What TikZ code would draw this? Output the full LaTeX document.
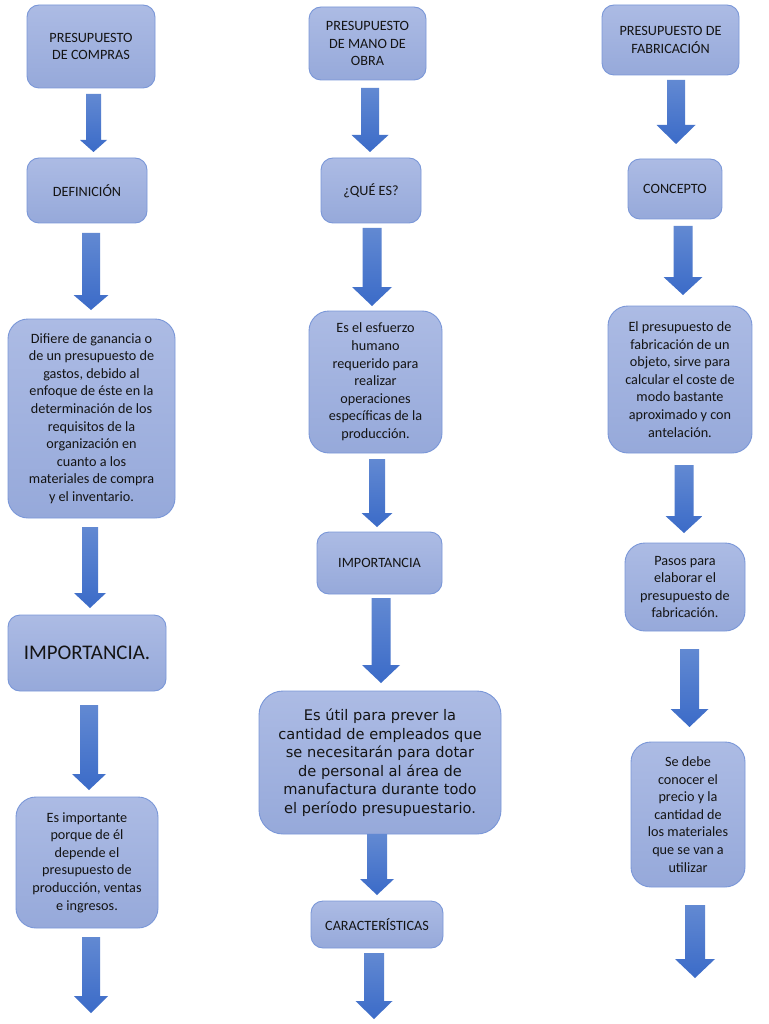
\documentclass[tikz,border=0pt]{standalone}
\usepackage{fontspec}
\setmainfont{Carlito}
\newfontfamily\verdfont{DejaVu Sans}
\definecolor{boxtop}{HTML}{ACBBE4}
\definecolor{boxbot}{HTML}{96A9DA}
\definecolor{boxline}{HTML}{7A97D8}
\definecolor{arrtop}{HTML}{6289D2}
\definecolor{arrbot}{HTML}{3B6BC8}
\definecolor{txt}{HTML}{141414}
\newcommand\farrow[7]{% name, x, ytop, ytip, shaft width, head width, head length
  \coordinate (#1s) at (#2,#3);
  \coordinate (#1e) at (#2,#4);
  \pgfmathsetmacro\sw{#5/2}\pgfmathsetmacro\hw{#6/2}
  \shade[top color=arrtop,bottom color=arrbot]
    ([xshift=-\sw pt]#1s) -- ([xshift=\sw pt]#1s)
    -- ([xshift=\sw pt,yshift=#7pt]#1e) -- ([xshift=\hw pt,yshift=#7pt]#1e)
    -- (#1e)
    -- ([xshift=-\hw pt,yshift=#7pt]#1e) -- ([xshift=-\sw pt,yshift=#7pt]#1e)
    -- cycle;}
\begin{document}
\begin{tikzpicture}[x=1pt,y=-1pt,
  fbox/.style={rounded corners=12pt, draw=boxline, line width=0.9pt,
    top color=boxtop, bottom color=boxbot, align=center, inner sep=0pt,
    text=txt, font=\fontsize{14.2}{17.6}\selectfont},
  bigr/.style={rounded corners=20pt}]
\useasboundingbox (0,0) rectangle (768,1024);
\fill[white] (0,0) rectangle (768,1024);

% Column 1
\node[fbox, minimum width=128pt, minimum height=83pt] (c1a) at (91,46.5) {PRESUPUESTO\\DE COMPRAS};
\node[fbox, minimum width=120pt, minimum height=65pt] (c1b) at (87,190.5) {DEFINICIÓN};
\node[fbox, bigr, minimum width=167pt, minimum height=199pt] (c1c) at (91.5,418.5) {Difiere de ganancia o\\de un presupuesto de\\gastos, debido al\\enfoque de éste en la\\determinación de los\\requisitos de la\\organización en\\cuanto a los\\materiales de compra\\y el inventario.};
\node[fbox, minimum width=158pt, minimum height=76pt, font=\fontsize{20.8}{24}\selectfont] (c1d) at (87,653) {IMPORTANCIA.};
\node[fbox, bigr, minimum width=142pt, minimum height=131pt] (c1e) at (87,862.5) {Es importante\\porque de él\\depende el\\presupuesto de\\producción, ventas\\e ingresos.};

\farrow{a1}{93.5}{94}{152}{15}{27}{12}
\farrow{a2}{91}{233}{310}{18}{35}{15}
\farrow{a3}{90}{527}{608}{16}{32}{15}
\farrow{a4}{89}{705}{790}{18}{34}{16}
\farrow{a5}{91}{937}{1013}{18}{34}{17}

% Column 2
\node[fbox, minimum width=117pt, minimum height=73pt] (c2a) at (367.5,43.5) {PRESUPUESTO\\DE MANO DE\\OBRA};
\node[fbox, minimum width=100pt, minimum height=65pt] (c2b) at (371,190.5) {¿QUÉ ES?};
\node[fbox, bigr, minimum width=133pt, minimum height=142pt] (c2c) at (375.5,382) {Es el esfuerzo\\humano\\requerido para\\realizar\\operaciones\\específicas de la\\producción.};
\node[fbox, minimum width=125pt, minimum height=62pt] (c2d) at (379.5,563) {IMPORTANCIA};
\node[fbox, rounded corners=24pt, minimum width=242pt, minimum height=143pt, font=\verdfont\fontsize{14.6}{18.5}\selectfont] (c2e) at (380,762.5) {Es útil para prever la\\cantidad de empleados que\\se necesitarán para dotar\\de personal al área de\\manufactura durante todo\\el período presupuestario.};
\node[fbox, minimum width=132pt, minimum height=47pt] (c2f) at (377,924.5) {CARACTERÍSTICAS};

\farrow{b1}{370}{88}{152}{18}{37}{17}
\farrow{b2}{372}{228}{306}{19}{40}{19}
\farrow{b3}{377}{459}{527}{16}{31}{14}
\farrow{b4}{381}{598}{683}{19}{38}{18}
\farrow{b5}{377}{834}{895}{20}{34}{16}
\farrow{b6}{374}{953}{1019}{20}{37}{18}

% Column 3
\node[fbox, minimum width=137pt, minimum height=70pt] (c3a) at (670.5,40) {PRESUPUESTO DE\\FABRICACIÓN};
\node[fbox, minimum width=94pt, minimum height=60pt] (c3b) at (675,189) {CONCEPTO};
\node[fbox, bigr, minimum width=144pt, minimum height=147pt] (c3c) at (680,379.5) {El presupuesto de\\fabricación de un\\objeto, sirve para\\calcular el coste de\\modo bastante\\aproximado y con\\antelación.};
\node[fbox, bigr, minimum width=120pt, minimum height=88pt] (c3d) at (685,587) {Pasos para\\elaborar el\\presupuesto de\\fabricación.};
\node[fbox, bigr, minimum width=114pt, minimum height=145pt] (c3e) at (688,814.5) {Se debe\\conocer el\\precio y la\\cantidad de\\los materiales\\que se van a\\utilizar};

\farrow{d1}{676}{80}{144}{18}{39}{19}
\farrow{d2}{683}{226}{295}{19}{39}{18}
\farrow{d3}{684}{465}{533}{19}{37}{17}
\farrow{d4}{689.5}{649}{727}{19}{38}{18}
\farrow{d5}{695}{905}{978}{20}{40}{19}
\end{tikzpicture}
\end{document}
